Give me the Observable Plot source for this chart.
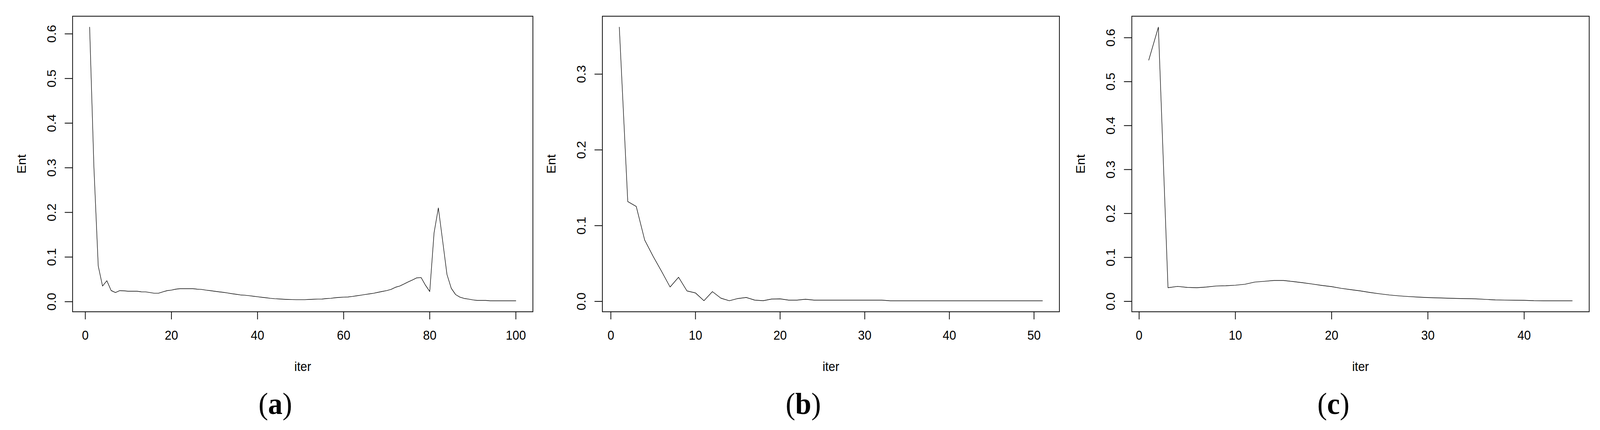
<!DOCTYPE html>
<html>
<head>
<meta charset="utf-8">
<script src="https://cdn.jsdelivr.net/npm/d3@7"></script>
<script src="https://cdn.jsdelivr.net/npm/@observablehq/plot@0.6"></script>
<style>
  html, body { margin: 0; padding: 0; background: white; overflow: hidden; }
  #stage { position: relative; overflow: hidden; background: white; }
  #fig { position: absolute; left: 0; top: 0; width: 4376px; height: 1100px; background: white; overflow: hidden; transform-origin: 0 0; }
  .panel { position: absolute; top: 0; }
  .cap { position: absolute; top: 993px; transform: translateX(-50%);
         font-family: "Palatino Linotype", "Book Antiqua", "Liberation Serif", "DejaVu Serif", serif;
         font-size: 79px; line-height: 1; color: black; white-space: nowrap; }
  .cap b { font-weight: bold; }
</style>
</head>
<body>
<div id="stage"><div id="fig"></div></div>
<script>
// ---- data ----
const entA = [
  0.615, 0.30, 0.080, 0.035, 0.047, 0.025, 0.0205, 0.0248, 0.0243, 0.0234,
  0.0234, 0.0234, 0.0222, 0.022, 0.0205, 0.019, 0.019, 0.022, 0.0248, 0.026,
  0.0281, 0.0292, 0.0292, 0.0292, 0.0292, 0.0281, 0.0275, 0.026, 0.0248, 0.0234,
  0.0222, 0.021, 0.0196, 0.018, 0.0167, 0.0152, 0.0146, 0.0135, 0.0123, 0.0111,
  0.0099, 0.0088, 0.0076, 0.0067, 0.0061, 0.0055, 0.005, 0.0047, 0.0045, 0.0045,
  0.0045, 0.005, 0.0055, 0.0058, 0.006, 0.007, 0.0076, 0.0088, 0.0096, 0.0102,
  0.0105, 0.0117, 0.0132, 0.0146, 0.0161, 0.0175, 0.019, 0.021, 0.023, 0.0249,
  0.0275, 0.0322, 0.035, 0.0395, 0.0444, 0.0488, 0.0535, 0.054, 0.037, 0.0228,
  0.154, 0.21, 0.136, 0.061, 0.030, 0.016, 0.0102, 0.0073, 0.0058, 0.0041,
  0.0029, 0.0029, 0.0029, 0.002, 0.002, 0.002, 0.002, 0.002, 0.002, 0.002
];
const entB = [
  0.362, 0.1318, 0.1254, 0.081, 0.0594, 0.0396, 0.019, 0.0319, 0.0138, 0.0112,
  0.0009, 0.0129, 0.0043, 0.0009, 0.0038, 0.0052, 0.0017, 0.0009, 0.0031, 0.0034,
  0.0017, 0.0017, 0.0029, 0.0017, 0.0017, 0.0017, 0.0017, 0.0017, 0.0017, 0.0017,
  0.0017, 0.0017, 0.0008, 0.0008, 0.0008, 0.0008, 0.0008, 0.0008, 0.0008, 0.0008,
  0.0008, 0.0008, 0.0008, 0.0008, 0.0008, 0.0008, 0.0008, 0.0008, 0.0008, 0.0008,
  0.0008
];
const entC = [
  0.549, 0.624, 0.0311, 0.0341, 0.0318, 0.0311, 0.0326, 0.035, 0.0356, 0.0368,
  0.039, 0.0439, 0.0457, 0.0475, 0.0475, 0.0451, 0.0424, 0.0394, 0.0362, 0.0335,
  0.0297, 0.0267, 0.0237, 0.0202, 0.0172, 0.0145, 0.0125, 0.011, 0.0097, 0.0087,
  0.008, 0.0073, 0.0067, 0.0062, 0.0057, 0.0045, 0.0033, 0.003, 0.0027, 0.0024,
  0.0015, 0.0013, 0.0013, 0.0013, 0.0013
];
const xTicksA = [0, 20, 40, 60, 80, 100];
const xTicksB = [0, 10, 20, 30, 40, 50];
const xTicksC = [0, 10, 20, 30, 40];
const yTicksA = [0, 0.1, 0.2, 0.3, 0.4, 0.5, 0.6];
const yTicksB = [0, 0.1, 0.2, 0.3];
const yTicksC = [0, 0.1, 0.2, 0.3, 0.4, 0.5, 0.6];
const xTitle = "iter";
const yTitle = "Ent";
const captions = ["a", "b", "c"];

// ---- layout ----
const FIG_W = 4376, FIG_H = 1100;
const panels = [
  {values: entA, xTicks: xTicksA, yTicks: yTicksA, boxLeft: 198, boxRight: 1457, capX: 753},
  {values: entB, xTicks: xTicksB, yTicks: yTicksB, boxLeft: 1647, boxRight: 2897, capX: 2197},
  {values: entC, xTicks: xTicksC, yTicks: yTicksC, boxLeft: 3095, boxRight: 4346, capX: 3647}
];
const ML = 170, MR = 6, MT = 41, BOX_BOTTOM = 797, H = 980;
const FONT = "'Liberation Sans', Arial, Helvetica, sans-serif";

function rDomain(lo, hi) { const e = 0.04 * (hi - lo); return [lo - e, hi + e]; }

const stage = document.getElementById("stage");
const fig = document.getElementById("fig");
panels.forEach((p, k) => {
  const data = p.values.map((v, i) => ({iter: i + 1, ent: v}));
  const xd = rDomain(1, data.length);
  const yd = rDomain(d3.min(p.values), d3.max(p.values));
  const width = (p.boxRight - p.boxLeft) + ML + MR;
  const chart = Plot.plot({
    width, height: H,
    marginLeft: ML, marginRight: MR, marginTop: MT, marginBottom: H - BOX_BOTTOM,
    x: {domain: xd, axis: null, label: null},
    y: {domain: yd, axis: null, label: null},
    style: {background: "transparent", fontFamily: FONT, fontSize: "33px", color: "black", overflow: "visible", maxWidth: "none"},
    marks: [
      Plot.axisX({ticks: p.xTicks, tickSize: 20, tickPadding: 28, tickFormat: d3.format("d"),
                  strokeWidth: 2, fontSize: 33, fill: "black", label: null}),
      Plot.axisY({ticks: p.yTicks, tickSize: 21, tickPadding: 25, tickRotate: -90,
                  textAnchor: "middle", lineAnchor: "bottom", tickFormat: d3.format(".1f"),
                  strokeWidth: 2, fontSize: 33, fill: "black", label: null}),
      Plot.text([xTitle], {text: d => d, frameAnchor: "bottom", dy: 151, lineAnchor: "bottom",
                           fontSize: 33, fill: "black"}),
      Plot.text([yTitle], {text: d => d, frameAnchor: "left", dx: -139, rotate: -90,
                           textAnchor: "middle", lineAnchor: "middle", fontSize: 33, fill: "black"}),
      Plot.line(data, {x: "iter", y: "ent", stroke: "black", strokeWidth: 1.4}),
      Plot.frame({stroke: "black", strokeWidth: 2})
    ]
  });
  const wrap = document.createElement("div");
  wrap.className = "panel";
  wrap.style.left = (p.boxLeft - ML) + "px";
  wrap.appendChild(chart);
  fig.appendChild(wrap);

  const cap = document.createElement("div");
  cap.className = "cap";
  cap.style.left = p.capX + "px";
  cap.innerHTML = "(<b>" + captions[k] + "</b>)";
  fig.appendChild(cap);
});

// fill the whole viewport with the 4376x1100 figure
function fit() {
  const vw = document.documentElement.clientWidth || window.innerWidth;
  const vh = document.documentElement.clientHeight || window.innerHeight;
  const sx = vw / FIG_W, sy = vh / FIG_H;
  const same = Math.abs(sx - 1) < 0.001 && Math.abs(sy - 1) < 0.001;
  fig.style.transform = same ? "none" : `scale(${sx}, ${sy})`;
  stage.style.width = vw + "px";
  stage.style.height = vh + "px";
}
fit();
window.addEventListener("resize", fit);
</script>
</body>
</html>
